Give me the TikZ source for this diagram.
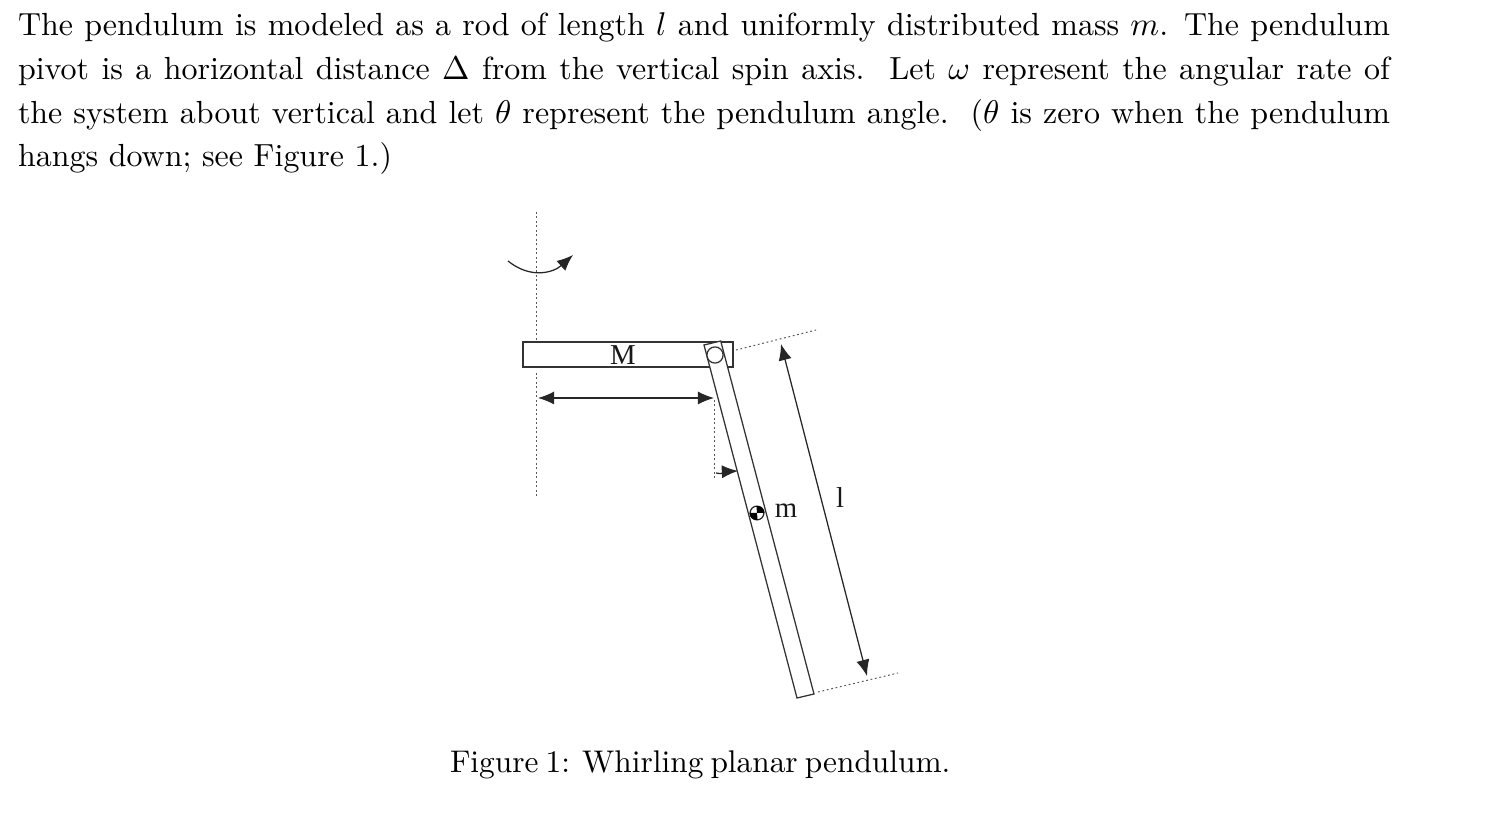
\documentclass[tikz,border=0pt]{standalone}
\usetikzlibrary{arrows.meta}
\usepackage{fontspec}
\newfontfamily\figlabel{Liberation Serif}
\tikzset{
  px/.style={x=0.33333pt,y=-0.33333pt},
  textline/.style={anchor=base west,inner sep=0pt,outer sep=0pt,font=\fontsize{10.66}{14.67}\selectfont},
  captionline/.style={anchor=base west,inner sep=0pt,outer sep=0pt,font=\fontsize{10.45}{14.67}\selectfont},
  partline/.style={draw=black!80,line width=0.42pt},
  guide/.style={draw=black!65,line width=0.33pt,dash pattern=on 0.6pt off 0.9pt},
  dimarrow/.style={draw=black!85,line width=0.42pt,{Latex[length=5.4pt,width=4.4pt]}-{Latex[length=5.4pt,width=4.4pt]}},
  turnarrow/.style={draw=black!85,line width=0.42pt,-{Latex[length=5.4pt,width=4.4pt]}},
  figtext/.style={inner sep=0pt,font=\figlabel\fontsize{9.6}{11}\selectfont,text=black!90},
}
\begin{document}
\begin{tikzpicture}[px]
\useasboundingbox (0,0) rectangle (1489,823);
% paragraph
\node[textline] (l1) at (18,36) {\makebox[457.3pt][s]{The pendulum is modeled as a rod of length $l$ and uniformly distributed mass $m$. The pendulum}};
\node[textline] (l2) at (18,80) {\makebox[457.3pt][s]{pivot is a horizontal distance $\Delta$ from the vertical spin axis.\ \ Let $\omega$ represent the angular rate of}};
\node[textline] (l3) at (18,124) {\makebox[457.3pt][s]{the system about vertical and let $\theta$ represent the pendulum angle.\ \ ($\theta$ is zero when the pendulum}};
\node[textline] (l4) at (18,167) {hangs down; see Figure 1.)};
\node[captionline] (cap) at (450,773) {\makebox[166.8pt][s]{Figure 1: Whirling planar pendulum.}};
% named geometry
\coordinate (axisA) at (536,212);
\coordinate (axisB) at (536,340);
\coordinate (axisC) at (536,373);
\coordinate (axisD) at (536,497);
\coordinate (spinA) at (508,261);
\coordinate (spinB) at (573,255);
\coordinate (rodTL) at (704,345);
\coordinate (rodTR) at (720.7,341);
\coordinate (rodBR) at (814,694);
\coordinate (rodBL) at (797,698);
\coordinate (deltaA) at (538,398);
\coordinate (deltaB) at (714,398);
\coordinate (vertA) at (714.5,400);
\coordinate (vertB) at (714.5,478);
\coordinate (thetaA) at (716,473);
\coordinate (thetaB) at (738,471);
\coordinate (lenA) at (781,344);
\coordinate (lenB) at (867,676);
\coordinate (topA) at (736,350);
\coordinate (topB) at (816,330);
\coordinate (botA) at (818,692);
\coordinate (botB) at (898,673);
% guides
\draw[guide] (axisA) -- (axisB);
\draw[guide] (axisC) -- (axisD);
\draw[guide] (vertA) -- (vertB);
\draw[guide] (topA) -- (topB);
\draw[guide] (botA) -- (botB);
% spin arrow
\draw[turnarrow] (spinA) .. controls (530,279) and (553,273) .. (spinB);
% bar
\node[draw=black!80,line width=0.42pt,fill=white,minimum width=70pt,minimum height=8.33pt,inner sep=0pt] (bar) at (628,354.5) {};
\node[figtext] (labelM) at (623,355) {M};
% rod
\draw[partline,fill=white] (rodTL) -- (rodTR) -- (rodBR) -- (rodBL) -- cycle;
% pivot
\node[circle,draw=black!80,line width=0.42pt,minimum size=5.4pt,inner sep=0pt,fill=white] (pivot) at (715,355) {};
% centre of mass
\node[circle,draw=black!85,line width=0.42pt,minimum size=4.6pt,inner sep=0pt,fill=white] (mass) at (757,513) {};
\fill[black] (mass.center) -- (mass.east) arc[start angle=0,end angle=100,radius=2.3pt] -- cycle;
\fill[black] (mass.center) -- (mass.west) arc[start angle=180,end angle=280,radius=2.3pt] -- cycle;
\node[figtext] (labelm) at (786,511) {m};
\node[figtext] (labell) at (840,498) {l};
% dimension arrows
\draw[dimarrow] (deltaA) -- (deltaB);
\draw[dimarrow] (lenA) -- (lenB);
\draw[turnarrow] (thetaA) .. controls (722,475) and (727,471.5) .. (thetaB);
\end{tikzpicture}
\end{document}
